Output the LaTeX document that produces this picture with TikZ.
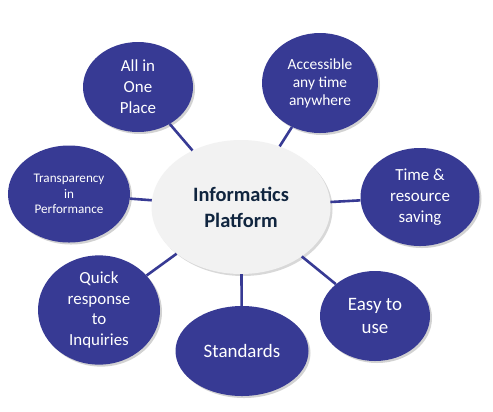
\documentclass[tikz,border=0pt]{standalone}
\usepackage{fontspec}
\setmainfont{Carlito}
\usetikzlibrary{shapes.geometric,shadows}
\definecolor{satblue}{HTML}{373A94}
\definecolor{centfill}{HTML}{F2F2F2}
\definecolor{centtext}{HTML}{10253F}
\begin{document}
\begin{tikzpicture}[x=1bp,y=-1bp,
  sat/.style={ellipse, fill=satblue, text=white, inner sep=0pt, align=center,
    drop shadow={opacity=0.35, shadow xshift=2bp, shadow yshift=-2bp}},
  hub/.style={ellipse, fill=centfill, text=centtext, inner sep=0pt, align=center,
    font=\fontsize{20.5}{26}\selectfont\bfseries,
    drop shadow={opacity=0.3, shadow xshift=2bp, shadow yshift=-2bp}},
  link/.style={draw=satblue, line width=2.6bp}]
\useasboundingbox[fill=white] (0,0) rectangle (493,411);
\node[hub, minimum width=179bp, minimum height=134bp] (c) at (241,207) {Informatics\\Platform};
\node[sat, minimum width=110bp, minimum height=90bp, font=\fontsize{17}{21}\selectfont] (a) at (138,87) {All in\\One\\Place};
\node[sat, minimum width=116bp, minimum height=100bp, font=\fontsize{15.5}{18}\selectfont] (b) at (320,83) {Accessible\\any time\\anywhere};
\node[sat, minimum width=122bp, minimum height=97bp, font=\fontsize{13.2}{15.5}\selectfont] (t) at (69,194) {Transparency\\in\\Performance};
\node[sat, minimum width=119bp, minimum height=98bp, font=\fontsize{17}{21}\selectfont] (r) at (420,197) {Time \&\\resource\\saving};
\node[sat, minimum width=122bp, minimum height=90bp, font=\fontsize{17}{21}\selectfont] (q) at (99,310) {Quick\\response\\to\\Inquiries};
\node[sat, minimum width=133bp, minimum height=90bp, font=\fontsize{19}{23}\selectfont] (s) at (242,351) {Standards};
\node[sat, minimum width=110bp, minimum height=90bp, font=\fontsize{19}{23}\selectfont] (e) at (375,316) {Easy to\\use};
\draw[link] (c) -- (a);
\draw[link] (c) -- (b);
\draw[link] (c) -- (t);
\draw[link] (c) -- (r);
\draw[link] (c) -- (q);
\draw[link] (c) -- (s);
\draw[link] (c) -- (e);
\end{tikzpicture}
\end{document}
